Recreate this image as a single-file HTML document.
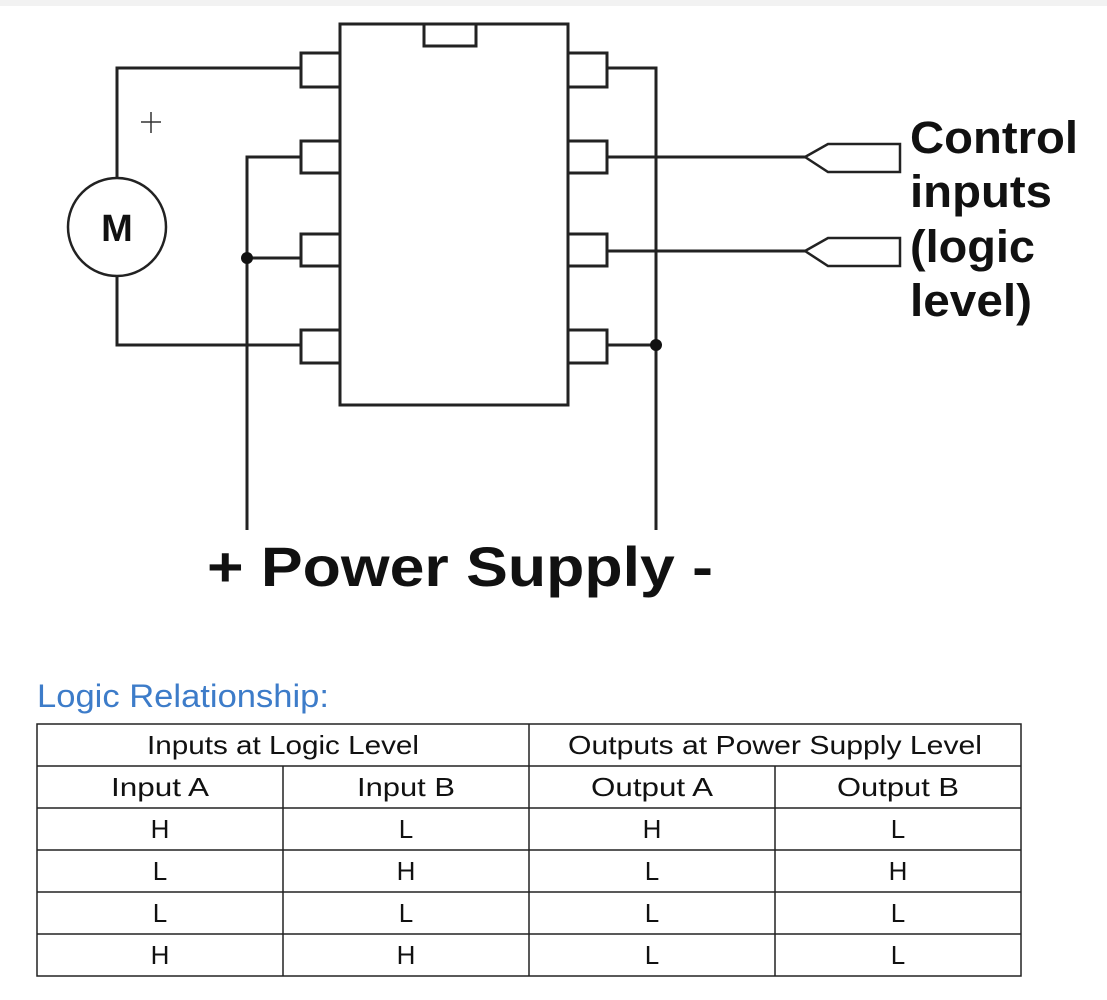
<!DOCTYPE html>
<html><head><meta charset="utf-8"><style>
html,body{margin:0;padding:0;background:#fff;}
svg{display:block;}
</style></head><body>
<svg width="1107" height="1000" viewBox="0 0 1107 1000" xmlns="http://www.w3.org/2000/svg">
<rect x="0" y="0" width="1107" height="1000" fill="#fff"/>
<rect x="0" y="0" width="1107" height="6" fill="#f2f2f2"/>
<g stroke="#222" stroke-width="3" fill="none">
<rect x="340" y="24" width="228" height="381" fill="#fff"/>
<rect x="424" y="24" width="52" height="22" fill="#fff"/>
<rect x="301" y="53" width="39" height="34"/>
<rect x="301" y="141" width="39" height="32"/>
<rect x="301" y="234" width="39" height="32"/>
<rect x="301" y="330" width="39" height="33"/>
<rect x="568" y="53" width="39" height="34"/>
<rect x="568" y="141" width="39" height="32"/>
<rect x="568" y="234" width="39" height="32"/>
<rect x="568" y="330" width="39" height="33"/>
<polyline points="301,68 117,68 117,178"/>
<polyline points="117,277 117,345 301,345"/>
<circle cx="117" cy="227" r="49" stroke-width="2.5"/>
<polyline points="301,157 247,157 247,530"/>
<line x1="247" y1="258" x2="301" y2="258"/>
<polyline points="607,68 656,68 656,530"/>
<line x1="607" y1="345" x2="656" y2="345"/>
<line x1="607" y1="157" x2="805" y2="157"/>
<line x1="607" y1="251" x2="805" y2="251"/>
<polygon points="805,157 828,144 900,144 900,172 828,172" stroke-width="2.5"/>
<polygon points="805,251 828,238 900,238 900,266 828,266" stroke-width="2.5"/>
</g>
<circle cx="247" cy="258" r="6" fill="#111"/>
<circle cx="656" cy="345" r="6" fill="#111"/>
<g stroke="#333" stroke-width="1.5"><line x1="141" y1="122" x2="161" y2="122"/><line x1="151" y1="112" x2="151" y2="133"/></g>
<text x="117" y="241" font-family="Liberation Sans, sans-serif" font-weight="bold" font-size="38" text-anchor="middle" fill="#111">M</text>
<g font-family="Liberation Sans, sans-serif" font-weight="bold" font-size="45" fill="#111">
<text x="910" y="153" textLength="168" lengthAdjust="spacingAndGlyphs">Control</text>
<text x="910" y="207" textLength="142" lengthAdjust="spacingAndGlyphs">inputs</text>
<text x="910" y="262" textLength="125" lengthAdjust="spacingAndGlyphs">(logic</text>
<text x="910" y="316" textLength="122" lengthAdjust="spacingAndGlyphs">level)</text>
</g>
<text x="207" y="586" font-family="Liberation Sans, sans-serif" font-weight="bold" font-size="56" fill="#111" textLength="506" lengthAdjust="spacingAndGlyphs">+ Power Supply -</text>
<text x="37" y="707" font-family="Liberation Sans, sans-serif" font-size="32" fill="#3d7cc9" textLength="292" lengthAdjust="spacingAndGlyphs">Logic Relationship:</text>
<g stroke="#222" stroke-width="1.5" fill="none">
<rect x="37" y="724" width="984" height="252"/>
<line x1="37" y1="766" x2="1021" y2="766"/>
<line x1="37" y1="808" x2="1021" y2="808"/>
<line x1="37" y1="850" x2="1021" y2="850"/>
<line x1="37" y1="892" x2="1021" y2="892"/>
<line x1="37" y1="934" x2="1021" y2="934"/>
<line x1="529" y1="724" x2="529" y2="976"/>
<line x1="283" y1="766" x2="283" y2="976"/>
<line x1="775" y1="766" x2="775" y2="976"/>
</g>
<g font-family="Liberation Sans, sans-serif" font-size="26" fill="#111" text-anchor="middle">
<text x="283" y="754" textLength="272" lengthAdjust="spacingAndGlyphs">Inputs at Logic Level</text>
<text x="775" y="754" textLength="414" lengthAdjust="spacingAndGlyphs">Outputs at Power Supply Level</text>
<text x="160" y="796" textLength="98" lengthAdjust="spacingAndGlyphs">Input A</text><text x="406" y="796" textLength="98" lengthAdjust="spacingAndGlyphs">Input B</text><text x="652" y="796" textLength="122" lengthAdjust="spacingAndGlyphs">Output A</text><text x="898" y="796" textLength="122" lengthAdjust="spacingAndGlyphs">Output B</text>
<text x="160" y="838">H</text><text x="406" y="838">L</text><text x="652" y="838">H</text><text x="898" y="838">L</text>
<text x="160" y="880">L</text><text x="406" y="880">H</text><text x="652" y="880">L</text><text x="898" y="880">H</text>
<text x="160" y="922">L</text><text x="406" y="922">L</text><text x="652" y="922">L</text><text x="898" y="922">L</text>
<text x="160" y="964">H</text><text x="406" y="964">H</text><text x="652" y="964">L</text><text x="898" y="964">L</text>
</g>
</svg>
</body></html>
